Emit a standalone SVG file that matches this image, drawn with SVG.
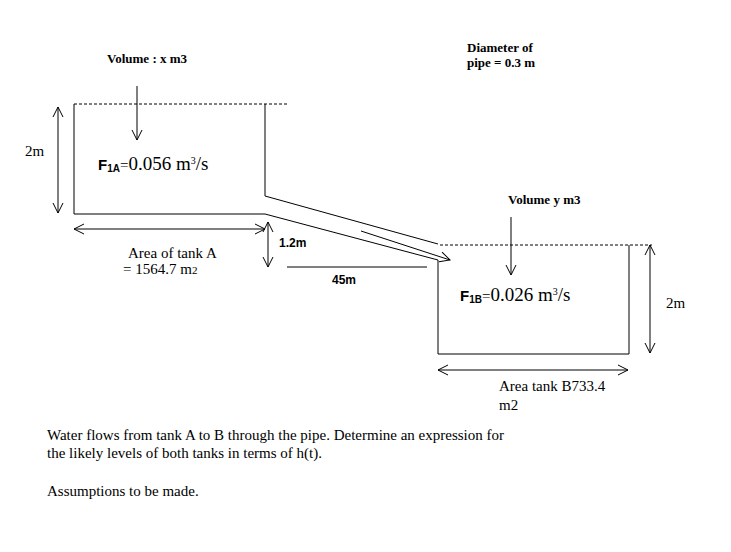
<svg xmlns="http://www.w3.org/2000/svg" width="731" height="552" viewBox="0 0 731 552">
<defs>
<marker id="oa" viewBox="0 0 12 12" refX="11" refY="6" markerWidth="12" markerHeight="12" markerUnits="userSpaceOnUse" orient="auto-start-reverse"><path d="M1,1 L11,6 L1,11" fill="none" stroke="#000" stroke-width="1"/></marker>
</defs>
<style>
.l{stroke:#000;stroke-width:1;fill:none}
.d{stroke:#000;stroke-width:1;stroke-dasharray:3,2;fill:none}
.s{font-family:"Liberation Serif",serif;font-size:15px;fill:#000}
.b{font-family:"Liberation Serif",serif;font-size:13px;font-weight:bold;fill:#000}
.a{font-family:"Liberation Sans",sans-serif;font-size:12px;font-weight:bold;fill:#000}
</style>
<rect width="731" height="552" fill="#fff"/>
<g id="tankA">
<path class="l" d="M74,104 V214 H265 M265,104 V196"/>
<path class="d" d="M74,104 H288"/>
</g>
<g id="pipe">
<path class="l" d="M265,196 L438,244 M265,214 L438,260"/>
</g>
<g id="tankB">
<path class="l" d="M438,260 V354 H629 V245"/>
<path class="d" d="M440,245 H652"/>
</g>
<g id="connectors">
<line class="l" x1="137" y1="86" x2="137" y2="140" marker-end="url(#oa)"/>
<line class="l" x1="511" y1="217" x2="511" y2="275" marker-end="url(#oa)"/>
<line class="l" x1="361" y1="231" x2="450" y2="260" marker-end="url(#oa)"/>
<line class="l" x1="58" y1="107" x2="58" y2="213" marker-start="url(#oa)" marker-end="url(#oa)"/>
<line class="l" x1="74" y1="229" x2="265" y2="229" marker-start="url(#oa)" marker-end="url(#oa)"/>
<line class="l" x1="268" y1="222" x2="268" y2="267" marker-start="url(#oa)" marker-end="url(#oa)"/>
<line class="l" x1="287" y1="267" x2="427" y2="267"/>
<line class="l" x1="438" y1="370" x2="628" y2="370" marker-start="url(#oa)" marker-end="url(#oa)"/>
<line class="l" x1="650" y1="245" x2="650" y2="353" marker-start="url(#oa)" marker-end="url(#oa)"/>
</g>
<g id="labels">
<text class="b" x="107" y="63">Volume : x m3</text>
<text class="b" x="467" y="52">Diameter of</text>
<text class="b" x="467" y="67">pipe = 0.3 m</text>
<text class="s" x="25" y="156">2m</text>
<text x="98" y="170" font-size="19" font-family="Liberation Serif,serif"><tspan font-family="Liberation Sans,sans-serif" font-weight="bold" font-size="15">F</tspan><tspan font-family="Liberation Sans,sans-serif" font-weight="bold" font-size="10" dy="2">1A</tspan><tspan dy="-2" font-size="15">=</tspan>0.056 m<tspan font-size="10" dy="-6">3</tspan><tspan dy="6">/s</tspan></text>
<text class="a" x="279" y="247">1.2m</text>
<text class="a" x="332" y="284" font-weight="normal">45m</text>
<text class="s" x="128" y="258">Area of tank A</text>
<text class="s" x="123" y="274">= 1564.7 m<tspan font-size="11">2</tspan></text>
<text class="b" x="508" y="204">Volume y m3</text>
<text x="460" y="301" font-size="19" font-family="Liberation Serif,serif"><tspan font-family="Liberation Sans,sans-serif" font-weight="bold" font-size="15">F</tspan><tspan font-family="Liberation Sans,sans-serif" font-weight="bold" font-size="10" dy="2">1B</tspan><tspan dy="-2" font-size="15">=</tspan>0.026 m<tspan font-size="10" dy="-6">3</tspan><tspan dy="6">/s</tspan></text>
<text class="s" x="666" y="308">2m</text>
<text class="s" x="499" y="391">Area tank B733.4</text>
<text class="s" x="499" y="410">m2</text>
<text class="s" x="47" y="440">Water flows from tank A to B through the pipe. Determine an expression for</text>
<text class="s" x="47" y="458">the likely levels of both tanks in terms of h(t).</text>
<text class="s" x="47" y="496">Assumptions to be made.</text>
</g>
</svg>
